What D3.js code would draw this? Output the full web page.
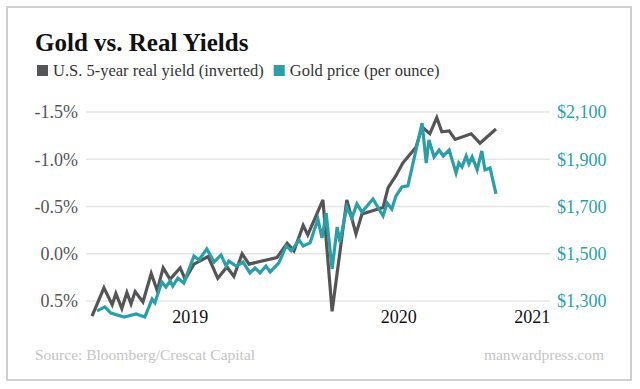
<!DOCTYPE html>
<html lang="en">
  <head>
    <meta charset="utf-8" />
    <title>Gold vs. Real Yields</title>
    <script src="https://cdn.jsdelivr.net/npm/d3@7"></script>
    <style>
      body { margin: 0; background: #fff; }
      svg text { font-family: "Liberation Serif", "DejaVu Serif", serif; }
    </style>
  </head>
  <body>
    <script>
      const yieldWeeks = [0, 2.6, 4.4, 5.2, 6.5, 7.6, 8.5, 9.4, 11.1, 12.9, 14.2, 15.5, 17.0, 19.2, 20.3, 22.2, 25.3, 27.4, 29.4, 30.9, 32.7, 34.2, 40.3, 42.5, 44.0, 46.0, 47.0, 50.3, 52.3, 55.5, 57.5, 58.8, 63.4, 64.5, 66.0, 67.7, 70.6, 71.9, 73.6, 75.1, 76.2, 77.8, 79.1, 82.6, 84.5, 88.0];
      const realYield = [0.66, 0.36, 0.54, 0.42, 0.58, 0.41, 0.53, 0.40, 0.51, 0.21, 0.39, 0.15, 0.27, 0.15, 0.27, 0.11, 0.03, 0.26, 0.14, 0.24, 0.00, 0.11, 0.04, -0.11, -0.03, -0.30, -0.20, -0.57, 0.61, -0.57, -0.21, -0.42, -0.49, -0.70, -0.81, -0.96, -1.13, -1.34, -1.27, -1.44, -1.29, -1.30, -1.21, -1.27, -1.17, -1.32];

      const goldWeeks = [1.1, 2.8, 4.1, 7.0, 9.6, 11.5, 13.1, 13.7, 15.2, 16.1, 17.0, 17.6, 18.7, 20.0, 22.2, 23.3, 25.0, 26.6, 28.1, 29.2, 29.8, 31.4, 32.9, 34.4, 35.5, 36.6, 37.9, 38.8, 40.7, 42.3, 43.4, 45.1, 46.0, 47.5, 49.2, 50.1, 51.0, 52.3, 53.4, 54.0, 55.5, 56.6, 57.7, 58.8, 61.2, 63.4, 64.3, 65.3, 66.2, 67.5, 68.8, 71.9, 72.8, 73.4, 74.5, 75.6, 76.5, 77.8, 79.3, 79.9, 80.6, 81.5, 82.1, 82.8, 83.9, 84.9, 85.6, 86.7, 88.0];
      const goldPrice = [1258, 1275, 1249, 1232, 1245, 1232, 1308, 1292, 1380, 1359, 1385, 1363, 1397, 1376, 1490, 1474, 1520, 1465, 1495, 1448, 1469, 1448, 1465, 1419, 1440, 1419, 1448, 1423, 1461, 1533, 1512, 1558, 1533, 1546, 1647, 1567, 1672, 1435, 1613, 1550, 1698, 1651, 1711, 1677, 1732, 1660, 1715, 1689, 1744, 1783, 1787, 2053, 1884, 1982, 1910, 1939, 1914, 1939, 1842, 1884, 1867, 1914, 1880, 1910, 1855, 1935, 1855, 1863, 1753];

      const yearLabels = ["2019", "2020", "2021"];
      const yearWeeks = [21.3, 66.7, 95.8];
      const yieldTicks = [0.5, 0, -0.5, -1.0, -1.5];
      const goldTicks = [1300, 1500, 1700, 1900, 2100];

      const width = 640, height = 389;
      const grey = "#555557", teal = "#2a9fa7";
      const serif = "'Liberation Serif', 'DejaVu Serif', serif";

      const svg = d3.select("body").append("svg")
        .attr("width", width)
        .attr("height", height);

      // frame
      svg.append("rect")
        .attr("x", 7).attr("y", 7)
        .attr("width", 624).attr("height", 373)
        .attr("fill", "#fff")
        .attr("stroke", "#cfcfcf")
        .attr("stroke-width", 2);

      svg.append("text")
        .attr("x", 35).attr("y", 51)
        .attr("font-size", 25)
        .attr("font-weight", "bold")
        .attr("fill", "#111")
        .text("Gold vs. Real Yields");

      // legend
      const legend = svg.append("g").attr("transform", "translate(37,76)");
      let lx = 0;
      [["U.S. 5-year real yield (inverted)", grey], ["Gold price (per ounce)", teal]].forEach(([label, color]) => {
        legend.append("rect")
          .attr("x", lx).attr("y", -11)
          .attr("width", 11).attr("height", 11)
          .attr("fill", color);
        const t = legend.append("text")
          .attr("x", lx + 16).attr("y", 0)
          .attr("font-size", 16.5)
          .attr("fill", "#333")
          .text(label);
        lx += 16 + t.node().getComputedTextLength() + 10;
      });

      const x = d3.scaleLinear().domain([0, 88]).range([92, 496]);
      const yLeft = d3.scaleLinear().domain([0.5, -1.5]).range([301, 112]);
      const yRight = d3.scaleLinear().domain([1300, 2100]).range([301, 112]);

      // gridlines
      svg.append("g")
        .selectAll("line")
        .data(yieldTicks)
        .join("line")
        .attr("x1", 86).attr("x2", 550)
        .attr("y1", d => yLeft(d)).attr("y2", d => yLeft(d))
        .attr("stroke", "#e6e6e6")
        .attr("stroke-width", 1.5);

      const leftAxis = svg.append("g")
        .attr("transform", "translate(78,0)")
        .call(d3.axisLeft(yLeft).tickValues(yieldTicks).tickSize(0).tickPadding(0)
          .tickFormat(d => d.toFixed(1) + "%"));
      leftAxis.select(".domain").remove();
      leftAxis.attr("font-family", null);
      leftAxis.selectAll("text")
        .style("font-family", serif)
        .style("font-size", "18px")
        .attr("fill", "#555");

      const rightAxis = svg.append("g")
        .attr("transform", "translate(557,0)")
        .call(d3.axisRight(yRight).tickValues(goldTicks).tickSize(0).tickPadding(0)
          .tickFormat(d => "$" + d3.format(",")(d)));
      rightAxis.select(".domain").remove();
      rightAxis.attr("font-family", null);
      rightAxis.selectAll("text")
        .style("font-family", serif)
        .style("font-size", "18px")
        .attr("fill", teal);

      const bottomAxis = svg.append("g")
        .attr("transform", "translate(0,310)")
        .call(d3.axisBottom(x).tickValues(yearWeeks).tickSize(0).tickPadding(0)
          .tickFormat((d, i) => yearLabels[i]));
      bottomAxis.select(".domain").remove();
      bottomAxis.attr("font-family", null);
      bottomAxis.selectAll("text")
        .style("font-family", serif)
        .style("font-size", "18px")
        .attr("fill", "#111");

      const yieldLine = d3.line()
        .x((d, i) => x(yieldWeeks[i]))
        .y(d => yLeft(d));
      const goldLine = d3.line()
        .x((d, i) => x(goldWeeks[i]))
        .y(d => yRight(d));

      svg.append("path")
        .datum(realYield)
        .attr("d", yieldLine)
        .attr("fill", "none")
        .attr("stroke", grey)
        .attr("stroke-width", 3.2);

      svg.append("path")
        .datum(goldPrice)
        .attr("d", goldLine)
        .attr("fill", "none")
        .attr("stroke", teal)
        .attr("stroke-width", 3.2);

      svg.append("text")
        .attr("x", 35).attr("y", 360)
        .attr("font-size", 15.5)
        .attr("fill", "#c4c4c4")
        .text("Source: Bloomberg/Crescat Capital");

      svg.append("text")
        .attr("x", 604).attr("y", 360)
        .attr("text-anchor", "end")
        .attr("font-size", 15.5)
        .attr("fill", "#c4c4c4")
        .text("manwardpress.com");
    </script>
  </body>
</html>
